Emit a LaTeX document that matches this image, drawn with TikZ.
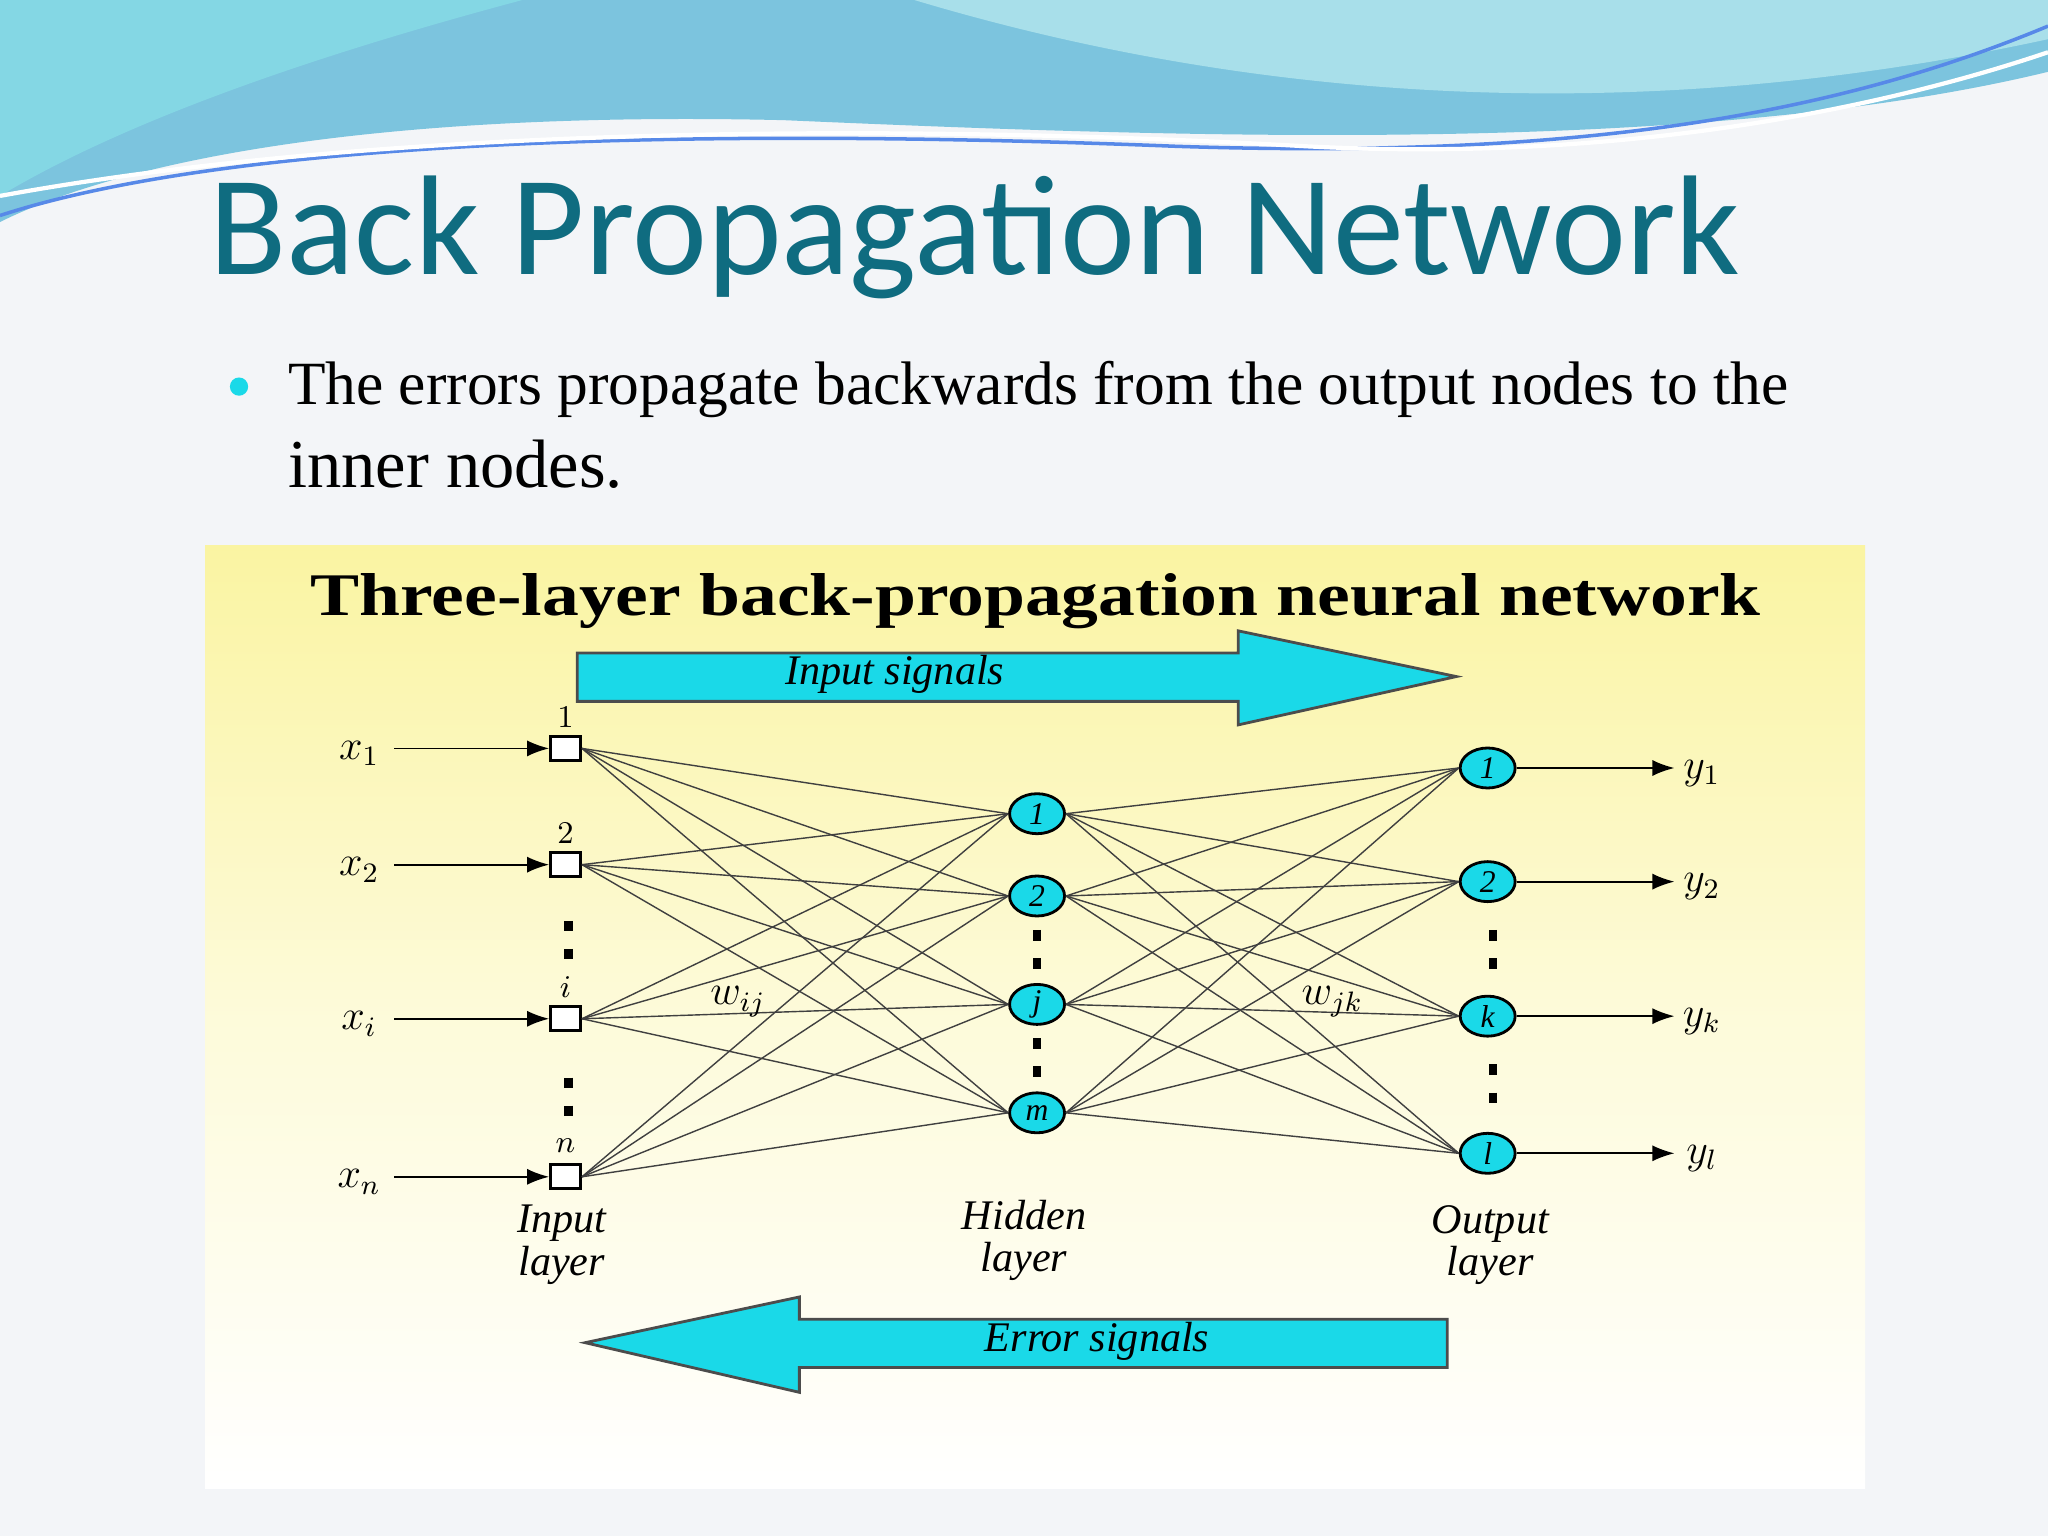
\documentclass[tikz,border=0pt]{standalone}
\usepackage{fontspec}
\setmainfont{Liberation Serif}
\newfontfamily\titlefont{Carlito}
\usetikzlibrary{arrows.meta,shapes.geometric}
\definecolor{bg}{HTML}{F3F5F8}
\definecolor{ttl}{HTML}{0F6C80}
\definecolor{cy}{HTML}{1AD9E8}
\definecolor{ylw}{HTML}{FAF4A2}
\definecolor{wa}{HTML}{7CC4DE}
\definecolor{wb}{HTML}{A8DFEA}
\definecolor{wc}{HTML}{86DCE6}
\begin{document}
\begin{tikzpicture}[x=0.0130612cm,y=-0.0130612cm,
  inb/.style={draw,thick,fill=white,minimum width=0.3cm,minimum height=0.24cm,inner sep=0pt},
  hid/.style={draw,thick,fill=cy,ellipse,minimum width=0.55cm,minimum height=0.4cm,inner sep=0pt,font=\itshape\small},
  con/.style={draw=black!75,line width=0.4pt},
  arr/.style={-{Latex[length=2.2mm,width=1.6mm]},line width=0.5pt},
  lab/.style={font=\itshape\large},
  big/.style={draw=black!70,thick,fill=cy}]
\useasboundingbox (0,0) rectangle (1568,1176);
\fill[bg] (0,0) rectangle (1568,1176);
% waves
\fill[wa] (0,0) -- (1568,0) -- (1568,55) .. controls (1300,120) and (900,105) .. (600,92) .. controls (300,85) and (100,120) .. (0,170) -- cycle;
\fill[wb] (700,0) .. controls (900,60) and (1200,110) .. (1568,30) -- (1568,0) -- cycle;
\fill[wc,opacity=0.8] (0,150) .. controls (100,90) and (250,40) .. (400,0) -- (0,0) -- cycle;
\draw[wa!70!blue,line width=1pt] (0,165) .. controls (200,100) and (600,100) .. (900,112) .. controls (1200,122) and (1400,90) .. (1568,20);
\draw[white,line width=1.2pt] (0,150) .. controls (300,95) and (700,95) .. (1000,112) .. controls (1250,125) and (1450,80) .. (1568,40);
% title
\node[anchor=base west,text=ttl,inner sep=0pt] (title) at (160,210) {\resizebox{15.3cm}{!}{\titlefont Back Propagation Network}};
\fill[cy] (183,296) circle (7);
\node[anchor=base west,inner sep=0pt] (b1) at (220,310) {\resizebox{15cm}{!}{The errors propagate backwards from the output nodes to the}};
\node[anchor=base west,inner sep=0pt,font=\fontsize{19.5}{24}\selectfont] (b2) at (220,373) {inner nodes.};
% panel
\shade[top color=ylw,bottom color=white,middle color=ylw!40!white] (157,418) rectangle (1428,1140);
\node[inner sep=0pt] (pt) at (793,460) {\resizebox{14.5cm}{0.42cm}{\bfseries Three-layer back-propagation neural network}};
% big arrows
\draw[big] (442,500) -- (948,500) -- (948,483) -- (1115,518) -- (948,555) -- (948,537) -- (442,537) -- cycle;
\node[font=\itshape\large] (is) at (685,516) {Input signals};
\draw[big] (448,1028) -- (612,993) -- (612,1010) -- (1108,1010) -- (1108,1047) -- (612,1047) -- (612,1066) -- cycle;
\node[font=\itshape\large] (es) at (840,1027) {Error signals};
% input nodes
\foreach \n/\y/\l/\xl in {1/573/1/x_1,2/662/2/x_2,3/780/i/x_i,4/901/n/x_n}{
  \node[inb] (i\n) at (433,\y) {};
  \node[font=\small] at (433,\y-24) {$\l$};
  \node[lab] (xl\n) at (275,\y+4) {$\xl$};
  \draw[arr] (302,\y) -- (i\n.west);
}
\foreach \n/\y/\l in {1/623/1,2/686/2,3/769/j,4/852/m}{\node[hid] (h\n) at (794,\y) {\l};}
\foreach \n/\y/\l/\yl in {1/588/1/y_1,2/675/2/y_2,3/778/k/y_k,4/883/l/y_l}{
  \node[hid] (o\n) at (1139,\y) {\l};
  \coordinate (e\n) at (1282,\y);
  \draw[arr] (o\n.east) -- (e\n);
  \node[lab] at (1303,\y+4) {$\yl$};
}
\foreach \a in {1,...,4}{\foreach \b in {1,...,4}{
  \draw[con] (i\a.east) -- (h\b.west);
  \draw[con] (h\a.east) -- (o\b.west);
}}
% dots
\foreach \x/\ya/\yb in {435/705/740,435/825/855,794/712/745,794/795/830,1143/712/745,1143/815/850}{
  \draw[line width=2.5pt,dash pattern=on 3pt off 5pt] (\x,\ya) -- (\x,\yb);
}
\node[lab] at (565,767) {$w_{ij}$};
\node[lab] at (1020,767) {$w_{jk}$};
\node[lab,align=center] at (430,953) {Input\\[-2pt]layer};
\node[lab,align=center] at (784,950) {Hidden\\[-2pt]layer};
\node[lab,align=center] at (1141,953) {Output\\[-2pt]layer};
\end{tikzpicture}
\end{document}
